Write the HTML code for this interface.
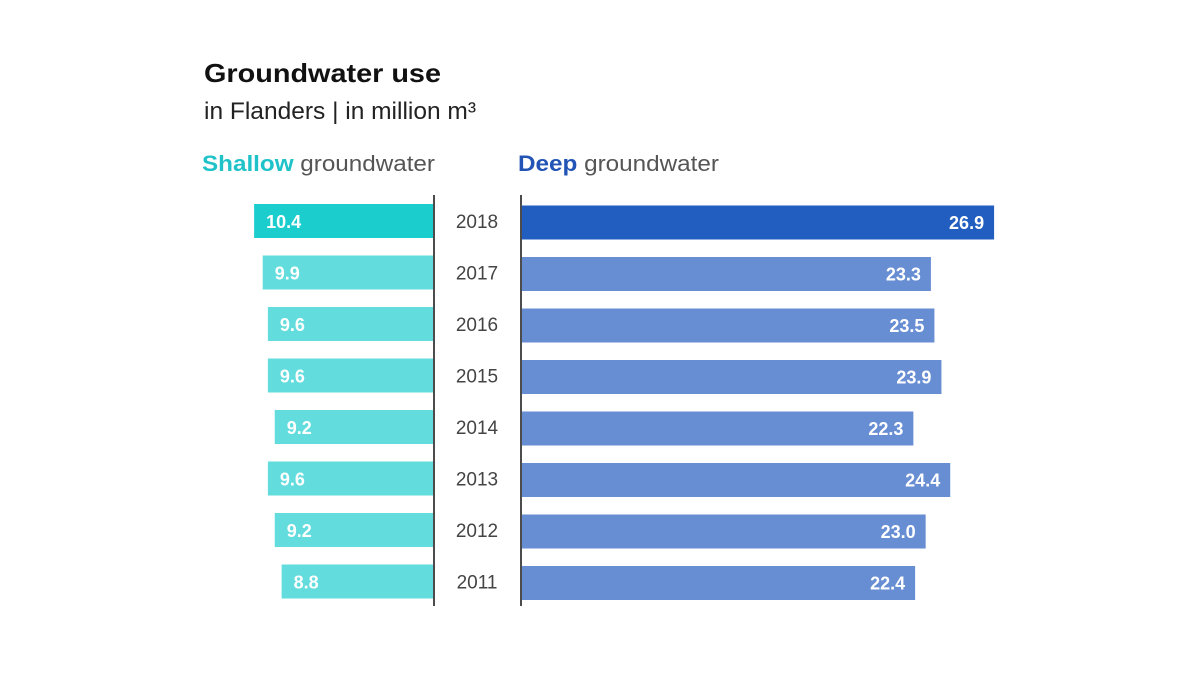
<!DOCTYPE html>
<html><head><meta charset="utf-8">
<style>
html,body{margin:0;padding:0;background:#fff;}
svg{display:block;font-family:"Liberation Sans",sans-serif;}
</style></head>
<body>
<svg id="chart" width="1200" height="675" viewBox="0 0 1200 675">
  <text x="204" y="82" font-size="26" font-weight="bold" fill="#111" textLength="237" lengthAdjust="spacingAndGlyphs">Groundwater use</text>
  <text x="204" y="119" font-size="24" fill="#222" textLength="272" lengthAdjust="spacingAndGlyphs">in Flanders | in million m³</text>
  <text x="202" y="171" font-size="22" fill="#555" textLength="233" lengthAdjust="spacingAndGlyphs"><tspan font-weight="bold" fill="#1fc2c8">Shallow</tspan> groundwater</text>
  <text x="518" y="171" font-size="22" fill="#555" textLength="201" lengthAdjust="spacingAndGlyphs"><tspan font-weight="bold" fill="#2154b5">Deep</tspan> groundwater</text>
  <line x1="434" y1="195" x2="434" y2="606" stroke="#111" stroke-width="1.5"/>
  <line x1="521" y1="195" x2="521" y2="606" stroke="#111" stroke-width="1.5"/>
  <g id="bars"></g>
</svg>
<script>
const years = ["2018","2017","2016","2015","2014","2013","2012","2011"];
const shallow = [10.4, 9.9, 9.6, 9.6, 9.2, 9.6, 9.2, 8.8];
const deep = [26.9, 23.3, 23.5, 23.9, 22.3, 24.4, 23.0, 22.4];

const NS = "http://www.w3.org/2000/svg";
const g = document.getElementById("bars");
const leftBase = 433, rightBase = 522;
const leftScale = v => v * 17.2;
const rightScale = v => v * 17.55;
const rowY = i => 204 + i * 51.5;
const barH = 34;
function mk(tag, attrs){ const e = document.createElementNS(NS, tag); for (const k in attrs) e.setAttribute(k, attrs[k]); return e; }
years.forEach((yr, i) => {
  const y = rowY(i);
  const w1 = leftScale(shallow[i]);
  const r1 = mk("rect", {x: leftBase - w1, y: y, width: w1, height: barH, fill: i === 0 ? "#1ccdce" : "#62dcdc"});
  
  
  g.appendChild(r1);
  const t1 = mk("text", {x: leftBase - w1 + 12, y: y + 24, "font-size": 18, "font-weight": "bold", fill: "#fff"});
  t1.textContent = shallow[i].toFixed(1);
  
  
  g.appendChild(t1);
  const w2 = rightScale(deep[i]);
  const r2 = mk("rect", {x: rightBase, y: y + 1.5, width: w2, height: barH, fill: i === 0 ? "#215ec0" : "#678dd3"});
  
  
  g.appendChild(r2);
  const t2 = mk("text", {x: rightBase + w2 - 10, y: y + 25, "font-size": 18, "font-weight": "bold", fill: "#fff", "text-anchor": "end"});
  t2.textContent = deep[i].toFixed(1);
  
  
  g.appendChild(t2);
  const ty = mk("text", {x: 477, y: y + 24, "font-size": 19, fill: "#444", "text-anchor": "middle"});
  ty.textContent = yr;
  
  
  g.appendChild(ty);
});
</script>
</body></html>
